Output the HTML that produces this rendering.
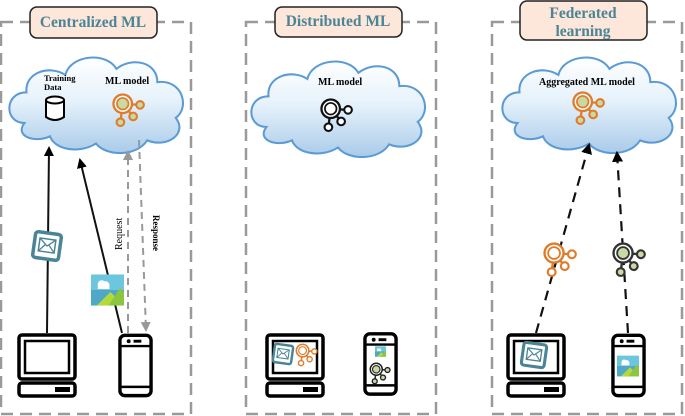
<!DOCTYPE html>
<html><head><meta charset="utf-8"><style>
body{margin:0;background:#fff;}
svg{display:block;font-family:"Liberation Serif",serif;}
</style></head><body>
<svg width="685" height="416" viewBox="0 0 685 416" xmlns="http://www.w3.org/2000/svg">
<defs>
<linearGradient id="cg" x1="0" y1="0" x2="0" y2="1">
<stop offset="0" stop-color="#ffffff"/><stop offset="0.45" stop-color="#e6f2fb"/><stop offset="1" stop-color="#a9cbe9"/>
</linearGradient>
<symbol id="cloud" viewBox="0 0 180 105">
<path d="M20,75 C0,75 0,45 22,45 C20,25 45,18 60,28 C65,8 100,5 110,22 C125,10 150,15 150,35 C175,32 182,60 168,70 C180,85 160,100 140,92 C130,108 100,108 90,95 C75,105 50,102 45,88 C30,95 10,88 20,75 Z" fill="url(#cg)" stroke="#5b9bd5" stroke-width="2"/>
</symbol>
<symbol id="laptop" viewBox="0 0 60 65">
<rect x="2" y="2" width="56" height="44" rx="3" fill="#fff" stroke="#000" stroke-width="3.5"/>
<rect x="8" y="8" width="44" height="32" fill="#fff" stroke="#000" stroke-width="2.5"/>
<rect x="2" y="50" width="56" height="13" rx="3" fill="#fff" stroke="#000" stroke-width="3.5"/>
<rect x="38" y="54" width="15" height="5" fill="#000"/>
</symbol>
<symbol id="phone" viewBox="0 0 36 66">
<rect x="2" y="2" width="32" height="62" rx="5" fill="#fff" stroke="#000" stroke-width="3.5"/>
<line x1="2" y1="13" x2="34" y2="13" stroke="#000" stroke-width="2.5"/>
<line x1="2" y1="55" x2="34" y2="55" stroke="#000" stroke-width="2.5"/>
<circle cx="11" cy="8" r="2" fill="#000"/><rect x="16" y="6.5" width="8" height="3" fill="#000"/>
</symbol>
<symbol id="env" viewBox="0 0 34 34">
<g transform="rotate(8 17 17)"><rect x="4" y="4" width="26" height="26" rx="3" fill="#fff" stroke="#4a8597" stroke-width="3.5"/>
<rect x="9" y="10" width="16" height="13" fill="none" stroke="#4a8597" stroke-width="1.5"/>
<path d="M9,10 L17,17 L25,10 M9,23 L15,16 M25,23 L19,16" fill="none" stroke="#4a8597" stroke-width="1.3"/></g>
</symbol>
<symbol id="img" viewBox="0 0 34 32">
<rect x="0" y="0" width="34" height="32" fill="#6cc6dd"/>
<rect x="0" y="16" width="34" height="16" fill="#4fa8c8"/>
<circle cx="11" cy="10" r="4" fill="#fff"/><circle cx="15" cy="11" r="4" fill="#fff"/><rect x="7" y="10" width="12" height="5" fill="#fff"/>
<path d="M6,32 L20,18 L34,32 Z" fill="#b5d93c"/><path d="M18,32 L30,14 L34,18 L34,32Z" fill="#8cc63f"/>
</symbol>
<symbol id="model" viewBox="0 0 32 32">
<line x1="11" y1="11" x2="25" y2="12" stroke="currentColor" stroke-width="2"/>
<line x1="11" y1="11" x2="20" y2="22" stroke="currentColor" stroke-width="2"/>
<line x1="11" y1="11" x2="9" y2="27" stroke="currentColor" stroke-width="2"/>
<circle cx="11" cy="11" r="8" fill="#fff" stroke="currentColor" stroke-width="2"/>
<circle cx="11" cy="11" r="5" fill="var(--f)" stroke="currentColor" stroke-width="1.5"/>
<circle cx="26" cy="12" r="3.3" fill="var(--f)" stroke="currentColor" stroke-width="1.8"/>
<circle cx="20" cy="22" r="3.3" fill="var(--f)" stroke="currentColor" stroke-width="1.8"/>
<circle cx="9" cy="27" r="3.3" fill="var(--f)" stroke="currentColor" stroke-width="1.8"/>
</symbol>
<marker id="ab" viewBox="0 0 10 10" refX="8" refY="5" markerWidth="5" markerHeight="5" orient="auto"><path d="M0,0 L10,5 L0,10 Z" fill="#000"/></marker>
<marker id="ag" viewBox="0 0 10 10" refX="8" refY="5" markerWidth="5" markerHeight="5" orient="auto"><path d="M0,0 L10,5 L0,10 Z" fill="#999"/></marker>
</defs>

<g fill="none" stroke="#999" stroke-width="2.5" stroke-dasharray="12,7">
<rect x="1" y="22" width="190" height="392"/>
<rect x="246" y="22" width="190" height="392"/>
<rect x="492" y="22" width="190" height="392"/>
</g>

<g stroke="#222" stroke-width="1.5" fill="#fde6da">
<rect x="30" y="7" width="127" height="31" rx="7"/>
<rect x="275" y="7" width="127" height="30" rx="7"/>
<rect x="520" y="1" width="127" height="39" rx="7"/>
</g>
<g font-weight="bold" fill="#4b8595" font-size="15.5" text-anchor="middle">
<text x="93" y="27">Centralized ML</text>
<text x="338" y="26">Distributed ML</text>
<text x="583" y="18">Federated</text>
<text x="583" y="36">learning</text>
</g>

<use href="#cloud" x="4" y="46" width="184" height="108"/>
<use href="#cloud" x="246" y="50" width="184" height="108"/>
<use href="#cloud" x="497" y="46" width="184" height="108"/>

<g font-weight="bold" font-size="8.5" fill="#000">
<text x="44" y="81">Training</text><text x="44" y="90">Data</text>
<text x="105" y="84" font-size="10">ML model</text>
<text x="318" y="85" font-size="10">ML model</text>
<text x="539" y="85" font-size="10">Aggregated ML model</text>
</g>
<g fill="#fff" stroke="#000" stroke-width="2">
<path d="M46,100 L46,117 Q55,123 64,117 L64,100"/>
<ellipse cx="55" cy="100" rx="9" ry="3.5"/>
</g>

<use href="#model" x="110" y="91" width="37" height="37" style="color:#e07b2a;--f:#c9d9a3"/>
<use href="#model" x="318" y="96" width="37" height="37" style="color:#111;--f:#fff"/>
<use href="#model" x="570" y="89" width="37" height="37" style="color:#e07b2a;--f:#c9d9a3"/>

<g stroke="#111" stroke-width="2" fill="none">
<line x1="47" y1="333" x2="49" y2="148" marker-end="url(#ab)"/>
<line x1="122" y1="333" x2="80" y2="160" marker-end="url(#ab)"/>
</g>
<g stroke="#999" stroke-width="2" fill="none" stroke-dasharray="7,5">
<line x1="128" y1="333" x2="128" y2="152" marker-end="url(#ag)"/>
<line x1="139" y1="140" x2="146" y2="330" marker-end="url(#ag)"/>
</g>
<text transform="translate(122,250) rotate(-90)" font-size="10" fill="#000">Request</text>
<text transform="translate(153,215) rotate(90)" font-size="9" font-weight="bold" fill="#000">Response</text>

<use href="#env" x="30" y="229" width="34" height="34"/>
<use href="#img" x="91" y="274" width="33" height="32"/>

<use href="#laptop" x="17" y="333" width="60" height="65"/>
<use href="#phone" x="118" y="333" width="35" height="65"/>

<use href="#laptop" x="265" y="333" width="60" height="65"/>
<use href="#env" x="271" y="342" width="24" height="24"/>
<use href="#model" x="294" y="342" width="25" height="25" style="color:#e07b2a;--f:#fff"/>
<use href="#phone" x="363" y="331" width="35" height="66"/>
<use href="#img" x="375" y="346" width="11" height="11"/>
<use href="#model" x="368" y="361" width="24" height="24" style="color:#222;--f:#c9d9a3"/>

<g stroke="#111" stroke-width="2.2" fill="none" stroke-dasharray="10,7">
<line x1="536" y1="333" x2="589" y2="145" marker-end="url(#ab)"/>
<line x1="628" y1="333" x2="617" y2="153" marker-end="url(#ab)"/>
</g>
<use href="#model" x="541" y="240" width="38" height="38" style="color:#e07b2a;--f:#fff"/>
<use href="#model" x="610" y="240" width="38" height="38" style="color:#333;--f:#c9d9a3"/>
<use href="#laptop" x="506" y="333" width="60" height="65"/>
<use href="#env" x="519" y="340" width="30" height="30"/>
<use href="#phone" x="611" y="333" width="35" height="65"/>
<use href="#img" x="617" y="354" width="22" height="24"/>
</svg>
</body></html>
